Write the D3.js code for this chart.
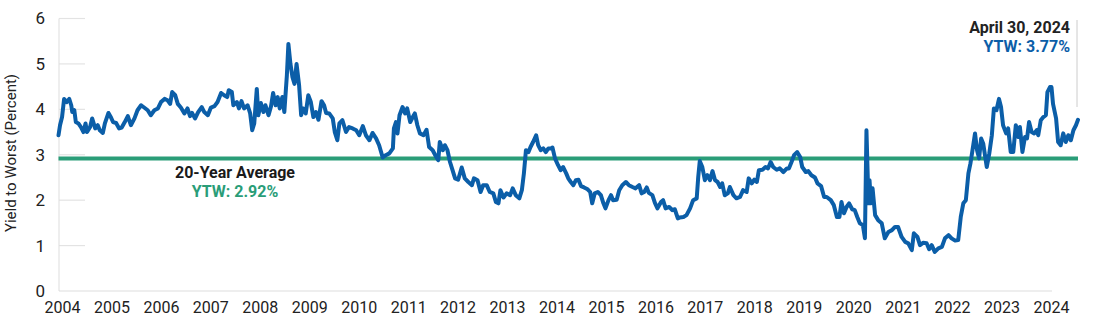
<!DOCTYPE html>
<html>
<head>
<meta charset="utf-8">
<script src="https://cdn.jsdelivr.net/npm/d3@7"></script>
<style>
    body { margin: 0; background: #fff; }
    #chart-container text { font-family: Roboto, "Noto Sans", sans-serif; }
</style>
</head>
<body>
<div id="chart-container"></div>
<script>
// Dates as decimal years (Apr 30, 2004 .. Apr 30, 2024)
const dates = [
    2004.33, 2004.36, 2004.40, 2004.44, 2004.49, 2004.54, 2004.58, 2004.60, 2004.64, 2004.67,
    2004.72, 2004.77, 2004.82, 2004.86, 2004.89, 2004.95, 2004.99, 2005.05, 2005.10, 2005.14,
    2005.20, 2005.24, 2005.31, 2005.36, 2005.40, 2005.46, 2005.52, 2005.57, 2005.63, 2005.69,
    2005.75, 2005.82, 2005.88, 2005.95, 2006.01, 2006.08, 2006.14, 2006.21, 2006.28, 2006.34,
    2006.41, 2006.47, 2006.52, 2006.56, 2006.62, 2006.67, 2006.73, 2006.80, 2006.86, 2006.91,
    2006.95, 2007.01, 2007.07, 2007.14, 2007.19, 2007.26, 2007.32, 2007.39, 2007.45, 2007.52,
    2007.58, 2007.64, 2007.67, 2007.73, 2007.76, 2007.83, 2007.87, 2007.92, 2007.97, 2008.04,
    2008.09, 2008.13, 2008.17, 2008.22, 2008.25, 2008.30, 2008.35, 2008.39, 2008.45, 2008.50,
    2008.54, 2008.59, 2008.63, 2008.67, 2008.72, 2008.76, 2008.81, 2008.84, 2008.88, 2008.92,
    2008.96, 2009.00, 2009.05, 2009.09, 2009.13, 2009.18, 2009.23, 2009.28, 2009.33, 2009.38,
    2009.43, 2009.49, 2009.54, 2009.58, 2009.64, 2009.71, 2009.75, 2009.80, 2009.84, 2009.90,
    2009.97, 2010.03, 2010.10, 2010.17, 2010.23, 2010.30, 2010.36, 2010.43, 2010.49, 2010.56,
    2010.62, 2010.69, 2010.75, 2010.82, 2010.89, 2010.91, 2010.95, 2010.98, 2011.02, 2011.08,
    2011.13, 2011.17, 2011.23, 2011.28, 2011.32, 2011.37, 2011.42, 2011.49, 2011.55, 2011.60,
    2011.67, 2011.74, 2011.78, 2011.81, 2011.87, 2011.91, 2011.96, 2012.01, 2012.06, 2012.11,
    2012.17, 2012.24, 2012.30, 2012.37, 2012.44, 2012.48, 2012.55, 2012.61, 2012.66, 2012.73,
    2012.79, 2012.86, 2012.91, 2012.96, 2013.00, 2013.06, 2013.12, 2013.19, 2013.24, 2013.30,
    2013.37, 2013.42, 2013.46, 2013.50, 2013.55, 2013.59, 2013.64, 2013.70, 2013.74, 2013.79,
    2013.84, 2013.89, 2013.94, 2013.99, 2014.02, 2014.07, 2014.13, 2014.18, 2014.23, 2014.29,
    2014.33, 2014.38, 2014.43, 2014.48, 2014.53, 2014.58, 2014.64, 2014.71, 2014.76, 2014.80,
    2014.85, 2014.91, 2014.97, 2015.02, 2015.06, 2015.12, 2015.17, 2015.21, 2015.28, 2015.33,
    2015.39, 2015.46, 2015.52, 2015.59, 2015.65, 2015.72, 2015.77, 2015.82, 2015.87, 2015.91,
    2015.98, 2016.03, 2016.08, 2016.15, 2016.19, 2016.24, 2016.31, 2016.37, 2016.42, 2016.48,
    2016.52, 2016.59, 2016.65, 2016.72, 2016.78, 2016.85, 2016.88, 2016.91, 2016.96, 2017.01,
    2017.06, 2017.11, 2017.16, 2017.21, 2017.26, 2017.31, 2017.35, 2017.40, 2017.46, 2017.50,
    2017.57, 2017.63, 2017.70, 2017.76, 2017.83, 2017.87, 2017.93, 2017.98, 2018.03, 2018.07,
    2018.14, 2018.20, 2018.25, 2018.30, 2018.35, 2018.42, 2018.48, 2018.55, 2018.62, 2018.66,
    2018.71, 2018.76, 2018.82, 2018.88, 2018.92, 2018.99, 2019.04, 2019.10, 2019.17, 2019.22,
    2019.29, 2019.35, 2019.40, 2019.48, 2019.54, 2019.60, 2019.65, 2019.69, 2019.74, 2019.79,
    2019.84, 2019.90, 2019.95, 2020.00, 2020.05, 2020.11, 2020.15, 2020.18, 2020.22, 2020.24,
    2020.27, 2020.30, 2020.35, 2020.41, 2020.48, 2020.54, 2020.61, 2020.68, 2020.74, 2020.80,
    2020.87, 2020.94, 2021.00, 2021.07, 2021.11, 2021.18, 2021.23, 2021.29, 2021.36, 2021.41,
    2021.46, 2021.52, 2021.59, 2021.66, 2021.72, 2021.79, 2021.85, 2021.92, 2021.98, 2022.03,
    2022.08, 2022.13, 2022.18, 2022.22, 2022.26, 2022.31, 2022.35, 2022.39, 2022.43, 2022.47,
    2022.54, 2022.59, 2022.64, 2022.68, 2022.73, 2022.78, 2022.82, 2022.86, 2022.92, 2022.96,
    2023.01, 2023.06, 2023.11, 2023.16, 2023.19, 2023.24, 2023.29, 2023.33, 2023.37, 2023.42,
    2023.47, 2023.52, 2023.55, 2023.60, 2023.65, 2023.70, 2023.73, 2023.78, 2023.81, 2023.84,
    2023.90, 2023.94, 2023.99, 2024.04, 2024.09, 2024.14, 2024.19, 2024.24, 2024.29, 2024.33
];

// Yield to worst (percent), one per date
const ytw = [
    3.43, 3.65, 3.83, 4.23, 4.16, 4.23, 4.09, 3.94, 3.98, 3.72,
    3.69, 3.61, 3.50, 3.69, 3.50, 3.61, 3.80, 3.58, 3.65, 3.54,
    3.48, 3.69, 3.92, 3.82, 3.72, 3.70, 3.58, 3.60, 3.72, 3.85,
    3.65, 3.80, 3.98, 4.09, 4.04, 3.98, 3.87, 3.98, 4.02, 4.16,
    4.23, 4.20, 4.12, 4.38, 4.31, 4.12, 4.04, 3.91, 4.02, 3.85,
    3.92, 3.80, 3.94, 4.05, 3.94, 3.87, 4.04, 4.07, 4.16, 4.36,
    4.31, 4.27, 4.42, 4.38, 4.09, 4.16, 4.02, 4.18, 4.02, 4.09,
    3.91, 3.54, 3.69, 4.45, 3.87, 4.14, 3.94, 4.09, 3.87, 4.07,
    4.36, 4.09, 4.27, 4.02, 4.27, 3.94, 4.75, 5.44, 5.00, 4.71,
    4.56, 5.00, 4.53, 3.87, 4.02, 3.91, 4.31, 4.16, 3.83, 3.94,
    3.77, 4.18, 4.09, 3.92, 3.91, 3.80, 3.50, 3.32, 3.69, 3.76,
    3.50, 3.61, 3.58, 3.54, 3.43, 3.63, 3.43, 3.32, 3.48, 3.36,
    3.21, 2.94, 2.99, 3.03, 3.14, 3.58, 3.72, 3.47, 3.87, 4.05,
    3.91, 4.02, 3.72, 3.83, 3.91, 3.65, 3.47, 3.43, 3.55, 3.17,
    3.10, 2.95, 2.88, 3.28, 3.10, 3.21, 3.10, 2.84, 2.66, 2.48,
    2.45, 2.72, 2.48, 2.40, 2.33, 2.48, 2.44, 2.18, 2.33, 2.33,
    2.18, 2.15, 1.96, 1.93, 2.22, 2.06, 2.15, 2.11, 2.26, 2.11,
    2.04, 2.22, 2.59, 3.10, 3.06, 3.17, 3.28, 3.43, 3.21, 3.10,
    3.14, 3.06, 3.14, 3.14, 3.16, 2.92, 2.77, 2.66, 2.73, 2.59,
    2.48, 2.40, 2.33, 2.44, 2.45, 2.31, 2.28, 2.24, 2.18, 1.93,
    2.15, 2.18, 2.11, 1.93, 1.82, 2.00, 2.11, 2.00, 2.01, 2.22,
    2.33, 2.40, 2.33, 2.29, 2.26, 2.33, 2.15, 2.18, 2.28, 2.16,
    2.11, 1.94, 1.82, 1.96, 2.00, 1.82, 1.85, 1.78, 1.80, 1.60,
    1.62, 1.63, 1.67, 1.82, 2.00, 2.04, 2.51, 2.86, 2.73, 2.44,
    2.55, 2.44, 2.64, 2.44, 2.40, 2.29, 2.37, 2.11, 2.15, 2.29,
    2.11, 2.04, 2.07, 2.22, 2.18, 2.48, 2.37, 2.45, 2.40, 2.66,
    2.67, 2.73, 2.70, 2.84, 2.73, 2.67, 2.70, 2.62, 2.70, 2.70,
    2.84, 2.99, 3.06, 2.95, 2.73, 2.62, 2.64, 2.55, 2.50, 2.37,
    2.31, 2.07, 2.07, 2.00, 1.89, 1.63, 1.63, 1.96, 1.71, 1.85,
    1.93, 1.80, 1.78, 1.63, 1.49, 1.45, 1.16, 3.54, 1.93, 2.44,
    1.93, 2.26, 1.67, 1.56, 1.49, 1.16, 1.30, 1.34, 1.41, 1.41,
    1.19, 1.08, 1.05, 0.90, 1.27, 1.19, 1.01, 1.06, 1.05, 0.92,
    1.01, 0.86, 0.94, 0.97, 1.16, 1.23, 1.16, 1.11, 1.12, 1.63,
    1.93, 2.00, 2.59, 2.81, 3.10, 3.47, 3.10, 2.92, 3.36, 3.25,
    2.73, 3.03, 3.43, 4.02, 3.98, 4.23, 4.05, 3.65, 3.47, 3.58,
    3.06, 3.06, 3.65, 3.39, 3.61, 3.06, 3.39, 3.36, 3.72, 3.50,
    3.47, 3.54, 3.43, 3.76, 3.83, 3.87, 4.38, 4.49, 4.49, 4.12,
    3.80, 3.28, 3.21, 3.47, 3.28, 3.43, 3.32, 3.54, 3.65, 3.77
];

// Axis tick labels
const yearLabels = d3.range(2004, 2025);
const yTicks = [0, 1, 2, 3, 4, 5, 6];

// 20-year average
const averageYtw = 2.92;

document.addEventListener("DOMContentLoaded", function () {
    const width = 1100;
    const height = 332;

    const svg = d3.select("#chart-container").append("svg")
        .attr("width", width)
        .attr("height", height);

    // Scales
    const x = d3.scaleLinear()
        .domain([dates[0], dates[dates.length - 1]])
        .range([58.5, 1078]);

    const y = d3.scaleLinear()
        .domain([0, 6])
        .range([291, 18.5]);

    // Year labels are spread evenly under the plot
    const xLabels = d3.scalePoint()
        .domain(yearLabels)
        .range([62, 1051]);

    // Short grid ticks on the left
    svg.append("g")
        .selectAll("line")
        .data(yTicks.filter(d => d > 0))
        .join("line")
        .attr("x1", 59)
        .attr("x2", 85)
        .attr("y1", d => y(d))
        .attr("y2", d => y(d))
        .attr("stroke", "#e3e3e3")
        .attr("stroke-width", 1.2);

    // Axis lines
    svg.append("line")
        .attr("x1", 59).attr("x2", 59)
        .attr("y1", y(6)).attr("y2", y(0))
        .attr("stroke", "#dddddd");
    svg.append("line")
        .attr("x1", 59).attr("x2", 1052)
        .attr("y1", y(0)).attr("y2", y(0))
        .attr("stroke", "#dddddd");

    // Y tick labels
    const yAxis = svg.append("g")
        .attr("transform", "translate(45,0)")
        .call(d3.axisLeft(y).tickValues(yTicks).tickFormat(d3.format("d")).tickSize(0).tickPadding(0));
    yAxis.select(".domain").remove();
    yAxis.selectAll("text")
        .attr("font-size", 17)
        .attr("fill", "#222");

    // X tick labels
    const xAxis = svg.append("g")
        .attr("transform", "translate(0,302)")
        .call(d3.axisBottom(xLabels).tickSize(0).tickPadding(0));
    xAxis.select(".domain").remove();
    xAxis.selectAll("text")
        .attr("font-size", 16)
        .attr("fill", "#222");

    // Y axis title
    svg.append("text")
        .attr("transform", "translate(16,153) rotate(-90)")
        .attr("text-anchor", "middle")
        .attr("font-size", 15)
        .attr("fill", "#222")
        .text("Yield to Worst (Percent)");

    // Average line
    svg.append("line")
        .attr("x1", x(dates[0])).attr("x2", x(dates[dates.length - 1]))
        .attr("y1", y(averageYtw)).attr("y2", y(averageYtw))
        .attr("stroke", "#2a9d78")
        .attr("stroke-width", 4);

    // YTW series
    const series = dates.map((d, i) => ({ t: d, v: ytw[i] }));
    const line = d3.line()
        .x(d => x(d.t))
        .y(d => y(d.v));

    svg.append("path")
        .datum(series)
        .attr("fill", "none")
        .attr("stroke", "#0b5ea8")
        .attr("stroke-width", 4)
        .attr("stroke-linejoin", "round")
        .attr("stroke-linecap", "round")
        .attr("d", line);

    // Average annotation
    svg.append("text")
        .attr("x", 235).attr("y", 178)
        .attr("text-anchor", "middle")
        .attr("font-size", 16)
        .attr("font-weight", "bold")
        .attr("fill", "#1a1a1a")
        .text("20-Year Average");
    svg.append("text")
        .attr("x", 235).attr("y", 197)
        .attr("text-anchor", "middle")
        .attr("font-size", 16)
        .attr("font-weight", "bold")
        .attr("fill", "#2a9d78")
        .text("YTW: " + averageYtw.toFixed(2) + "%");

    // Latest value annotation with leader line
    const lastX = x(dates[dates.length - 1]);
    svg.append("line")
        .attr("x1", lastX - 1).attr("x2", lastX - 1)
        .attr("y1", 20).attr("y2", 107)
        .attr("stroke", "#cccccc");
    svg.append("text")
        .attr("x", 1070).attr("y", 33)
        .attr("text-anchor", "end")
        .attr("font-size", 16)
        .attr("font-weight", "bold")
        .attr("fill", "#222")
        .text("April 30, 2024");
    svg.append("text")
        .attr("x", 1070).attr("y", 52)
        .attr("text-anchor", "end")
        .attr("font-size", 16)
        .attr("font-weight", "bold")
        .attr("fill", "#0b5ea8")
        .text("YTW: " + ytw[ytw.length - 1].toFixed(2) + "%");
});
</script>
</body>
</html>
